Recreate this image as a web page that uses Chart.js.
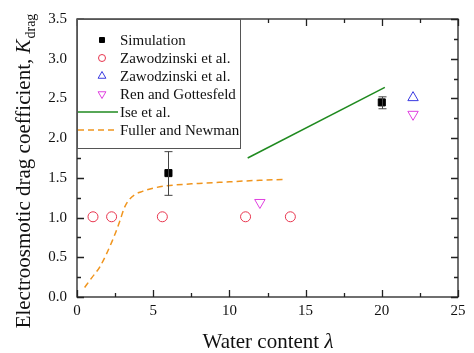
<!DOCTYPE html>
<html>
<head>
<meta charset="utf-8">
<script src="https://cdn.jsdelivr.net/npm/chart.js@4/dist/chart.umd.min.js"></script>
<style>
  html, body { margin: 0; padding: 0; background: #fff; }
  #wrap { width: 474px; height: 353px; }
</style>
</head>
<body>
<div id="wrap"><canvas id="dragChart" width="474" height="353"></canvas></div>
<script>
// values
const simX = [6, 20];
const simY = [1.56, 2.45];
const simLow = [1.28, 2.37];
const simHigh = [1.83, 2.52];

const zawoX = [1.05, 2.27, 5.6, 11.06, 14.0];
const zawoY = [1.01, 1.01, 1.01, 1.01, 1.01];

const zawo2X = [22.05];
const zawo2Y = [2.51];

const renX = [12.0, 22.05];
const renY = [1.19, 2.30];

const iseX = [11.2, 20.2];
const iseY = [1.75, 2.64];

const fullerX = [0.5, 1.0, 1.5, 2.3, 2.8, 3.1, 3.4, 3.8, 4.3, 5.0, 5.9, 8.0, 10.0, 12.0, 13.7];
const fullerY = [0.12, 0.25, 0.38, 0.7, 0.95, 1.12, 1.22, 1.29, 1.33, 1.37, 1.40, 1.43, 1.45, 1.47, 1.48];

const xTicks = [0, 5, 10, 15, 20, 25];
const yTicks = [0, 0.5, 1.0, 1.5, 2.0, 2.5, 3.0, 3.5];

const pts = (xs, ys) => xs.map((v, i) => ({ x: v, y: ys[i] }));
const serif = '"Liberation Serif", "DejaVu Serif", serif';

// error bars for the simulation points
const errorBars = {
  id: 'errorBars',
  afterDatasetsDraw(chart) {
    const { ctx, scales: { x, y } } = chart;
    ctx.save();
    ctx.strokeStyle = '#444';
    ctx.lineWidth = 1;
    simX.forEach((v, i) => {
      const px = Math.round(x.getPixelForValue(v)) + 0.5;
      const top = y.getPixelForValue(simHigh[i]);
      const bot = y.getPixelForValue(simLow[i]);
      ctx.beginPath();
      ctx.moveTo(px, top); ctx.lineTo(px, bot);
      ctx.moveTo(px - 4, top); ctx.lineTo(px + 4, top);
      ctx.moveTo(px - 4, bot); ctx.lineTo(px + 4, bot);
      ctx.stroke();
    });
    ctx.restore();
  }
};

// box frame with inward ticks on every side
const frameTicks = {
  id: 'frameTicks',
  afterDraw(chart) {
    const { ctx, chartArea: a, scales: { x, y } } = chart;
    ctx.save();
    ctx.strokeStyle = '#222';
    ctx.lineWidth = 1.3;
    ctx.strokeRect(a.left, a.top, a.right - a.left, a.bottom - a.top);
    ctx.beginPath();
    for (let v = x.min; v <= x.max + 1e-6; v += 2.5) {
      const px = Math.round(x.getPixelForValue(v)) + 0.5;
      const len = Math.abs(v % 5) < 1e-6 ? 7 : 4;
      ctx.moveTo(px, a.bottom); ctx.lineTo(px, a.bottom - len);
      ctx.moveTo(px, a.top); ctx.lineTo(px, a.top + len);
    }
    for (let v = y.min; v <= y.max + 1e-6; v += 0.25) {
      const py = Math.round(y.getPixelForValue(v)) + 0.5;
      const len = Math.abs(v % 0.5) < 1e-6 ? 7 : 4;
      ctx.moveTo(a.left, py); ctx.lineTo(a.left + len, py);
      ctx.moveTo(a.right, py); ctx.lineTo(a.right - len, py);
    }
    ctx.stroke();
    ctx.restore();
  }
};

// axis titles with italic symbols and subscript
const axisTitles = {
  id: 'axisTitles',
  afterDraw(chart) {
    const { ctx } = chart;
    ctx.save();
    ctx.fillStyle = '#111';
    ctx.textBaseline = 'alphabetic';

    // x title
    const xa = 'Water content ', xb = 'λ';
    ctx.font = '21px ' + serif;
    const wa = ctx.measureText(xa).width;
    ctx.font = 'italic 21px ' + serif;
    const wb = ctx.measureText(xb).width;
    const sx = 268 - (wa + wb) / 2;
    ctx.font = '21px ' + serif;
    ctx.fillText(xa, sx, 348);
    ctx.font = 'italic 21px ' + serif;
    ctx.fillText(xb, sx + wa, 348);

    // y title, rotated
    const ya = 'Electroosmotic drag coefficient, ', yk = 'K', ys = 'drag';
    ctx.font = '21px ' + serif;
    const w1 = ctx.measureText(ya).width;
    ctx.font = 'italic 21px ' + serif;
    const w2 = ctx.measureText(yk).width;
    ctx.font = '14px ' + serif;
    const w3 = ctx.measureText(ys).width;
    const total = w1 + w2 + w3 + 1;
    ctx.translate(30, 171);
    ctx.rotate(-Math.PI / 2);
    const t = -total / 2;
    ctx.font = '21px ' + serif;
    ctx.fillText(ya, t, 0);
    ctx.font = 'italic 21px ' + serif;
    ctx.fillText(yk, t + w1, 0);
    ctx.font = '14px ' + serif;
    ctx.fillText(ys, t + w1 + w2 + 1, 5);
    ctx.restore();
  }
};

// boxed legend in the upper left corner of the plot
const boxLegend = {
  id: 'boxLegend',
  afterDraw(chart) {
    const { ctx, chartArea: a } = chart;
    const left = a.left, top = a.top, w = 163, h = 129;
    ctx.save();
    ctx.fillStyle = '#fff';
    ctx.fillRect(left, top, w, h);
    ctx.strokeStyle = '#555';
    ctx.lineWidth = 1;
    ctx.strokeRect(left + 0.5, top + 0.5, w, h);
    ctx.font = '15px ' + serif;
    ctx.textBaseline = 'middle';
    chart.data.datasets.forEach((ds, i) => {
      const cy = top + 21 + i * 18;
      const sx = left + 25;
      if (ds.showLine) {
        ctx.strokeStyle = ds.borderColor;
        ctx.lineWidth = ds.borderWidth;
        ctx.setLineDash(ds.borderDash || []);
        ctx.beginPath();
        ctx.moveTo(left + 1, cy); ctx.lineTo(left + 41, cy);
        ctx.stroke();
        ctx.setLineDash([]);
      } else {
        ctx.fillStyle = ds.pointBackgroundColor;
        ctx.strokeStyle = ds.pointBorderColor;
        ctx.lineWidth = 1;
        Chart.helpers.drawPoint(ctx, {
          pointStyle: ds.pointStyle,
          rotation: ds.pointRotation || 0,
          radius: ds.pointRadius - 1.5,
          borderWidth: 1
        }, sx, cy);
      }
      ctx.fillStyle = '#111';
      ctx.fillText(ds.label, left + 43, cy + 1);
    });
    ctx.restore();
  }
};

const ctx = document.getElementById('dragChart').getContext('2d');
const dragChart = new Chart(ctx, {
  type: 'scatter',
  data: {
    datasets: [{
      label: 'Simulation',
      data: pts(simX, simY),
      pointStyle: 'rect',
      pointRadius: 5,
      pointBackgroundColor: '#000',
      pointBorderColor: '#000',
      borderColor: '#000'
    }, {
      label: 'Zawodzinski et al.',
      data: pts(zawoX, zawoY),
      pointStyle: 'circle',
      pointRadius: 5,
      pointBackgroundColor: 'rgba(0,0,0,0)',
      pointBorderColor: '#e8354e',
      borderColor: '#e8354e'
    }, {
      label: 'Zawodzinski et al.',
      data: pts(zawo2X, zawo2Y),
      pointStyle: 'triangle',
      pointRadius: 6,
      pointBackgroundColor: 'rgba(0,0,0,0)',
      pointBorderColor: '#3a3ae0',
      borderColor: '#3a3ae0'
    }, {
      label: 'Ren and Gottesfeld',
      data: pts(renX, renY),
      pointStyle: 'triangle',
      pointRotation: 180,
      pointRadius: 6,
      pointBackgroundColor: 'rgba(0,0,0,0)',
      pointBorderColor: '#e040e0',
      borderColor: '#e040e0'
    }, {
      label: 'Ise et al.',
      data: pts(iseX, iseY),
      showLine: true,
      pointRadius: 0,
      borderColor: '#1f8a1f',
      borderWidth: 1.5
    }, {
      label: 'Fuller and Newman',
      data: pts(fullerX, fullerY),
      showLine: true,
      cubicInterpolationMode: 'monotone',
      pointRadius: 0,
      borderColor: '#f0951e',
      borderWidth: 1.5,
      borderDash: [6, 4]
    }]
  },
  options: {
    responsive: false,
    animation: false,
    layout: { padding: { top: 18, right: 16, left: 0, bottom: 0 } },
    plugins: { legend: { display: false }, tooltip: { enabled: false } },
    elements: { point: { borderWidth: 1 } },
    scales: {
      x: {
        type: 'linear',
        min: 0, max: 25,
        afterFit: s => { s.height = 56; },
        afterBuildTicks: s => { s.ticks = xTicks.map(v => ({ value: v })); },
        grid: { display: false, drawTicks: false, tickLength: 0 },
        border: { display: false },
        ticks: { color: '#111', padding: 5, font: { family: serif, size: 15 } }
      },
      y: {
        type: 'linear',
        min: 0, max: 3.5,
        afterFit: s => { s.width = 77; },
        afterBuildTicks: s => { s.ticks = yTicks.map(v => ({ value: v })); },
        grid: { display: false, drawTicks: false, tickLength: 0 },
        border: { display: false },
        ticks: { color: '#111', padding: 10, font: { family: serif, size: 15 }, callback: v => v.toFixed(1) }
      }
    }
  },
  plugins: [errorBars, frameTicks, axisTitles, boxLegend]
});
</script>
</body>
</html>
